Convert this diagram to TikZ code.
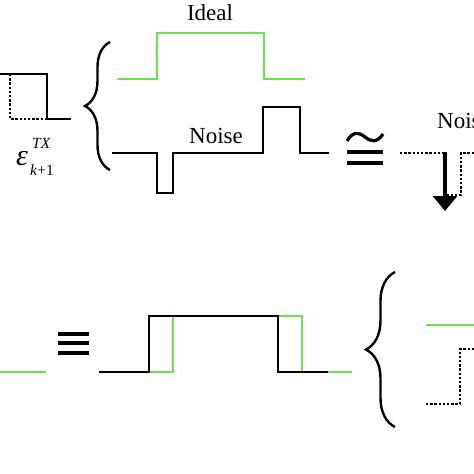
\documentclass[tikz,border=0pt]{standalone}
\usepackage{fontspec}
\setmainfont{Liberation Serif}
\usetikzlibrary{decorations.pathreplacing,arrows.meta}
\definecolor{lgreen}{RGB}{105,228,75}
\begin{document}
\begin{tikzpicture}[x=1pt,y=-1pt,
  wave/.style={line width=2.8pt},
  gwave/.style={line width=2.5pt, draw=lgreen},
  dots/.style={line width=2.7pt, dash pattern=on 2.4pt off 1.8pt},
  br/.style={line width=2.4pt, decorate, decoration={brace, amplitude=#1}},
  lbl/.style={font=\fontsize{23}{23}\selectfont, inner sep=0pt},
  small/.style={font=\fontsize{15.5}{15.5}\selectfont\itshape, inner sep=0pt}]
\useasboundingbox (0,0) rectangle (474,474);
\clip (0,0) rectangle (474,474);

% ---------- top row ----------
% left pulse
\draw[wave] (0,74) -- (47,74) -- (47,119) -- (71,119);
\draw[dots] (10,74) -- (10,119) -- (47,119);
% epsilon label
\node[anchor=base west, inner sep=0pt, font=\fontsize{30}{30}\selectfont\itshape] (eps) at (16,165) {ε};
\node[small, anchor=base west] (epsup) at (32,148) {TX};
\node[anchor=base west, inner sep=0pt, font=\fontsize{15.5}{15.5}\selectfont] (epsub) at (30,175) {\textit{k}+1};

% brace
\draw[br=25pt] (110,170) -- (110,42);

% ideal
\node[lbl, anchor=base] (ideal) at (210,20) {Ideal};
\draw[gwave] (117,79) -- (157,79) -- (157,33) -- (264,33) -- (264,79) -- (305,79);

% noise
\node[lbl, anchor=base] (noise) at (216,143) {Noise};
\draw[wave] (112,153) -- (157,153) -- (157,193) -- (173,193) -- (173,153) -- (263,153)
  -- (263,107) -- (300,107) -- (300,153) -- (329,153);

% congruent sign
\draw[line width=3.2pt] (347,141) .. controls (353,131) and (359,132) .. (365,137)
  .. controls (371,142) and (377,143) .. (383,134);
\draw[line width=3.2pt] (347,152) -- (383,152);
\draw[line width=3.2pt] (347,163) -- (383,163);

% noise arrow
\node[lbl, anchor=base west] (noise2) at (437,128) {Noise};
\draw[dots] (400,153) -- (444,153);
\draw[dots] (474,153) -- (461,153) -- (461,195) -- (446,195);
\draw[line width=3.2pt, -{Triangle[length=15pt,width=24pt]}] (445,152) -- (445,211);

% ---------- bottom row ----------
\draw[gwave] (0,372) -- (46,372);
% equivalence sign
\draw[line width=3.6pt] (58,334) -- (89,334);
\draw[line width=3.6pt] (58,343) -- (89,343);
\draw[line width=3.6pt] (58,353) -- (89,353);

\draw[gwave] (149,372) -- (173,372) -- (173,316) -- (302,316) -- (302,372) -- (352,372);
\draw[wave] (99,372) -- (149,372) -- (149,316) -- (278,316) -- (278,372) -- (328,372);

% right brace
\draw[br=29pt] (395,427) -- (395,272);
\draw[gwave] (426,325) -- (474,325);
\draw[dots] (426,404) -- (460,404) -- (460,349) -- (474,349);
\end{tikzpicture}
\end{document}
